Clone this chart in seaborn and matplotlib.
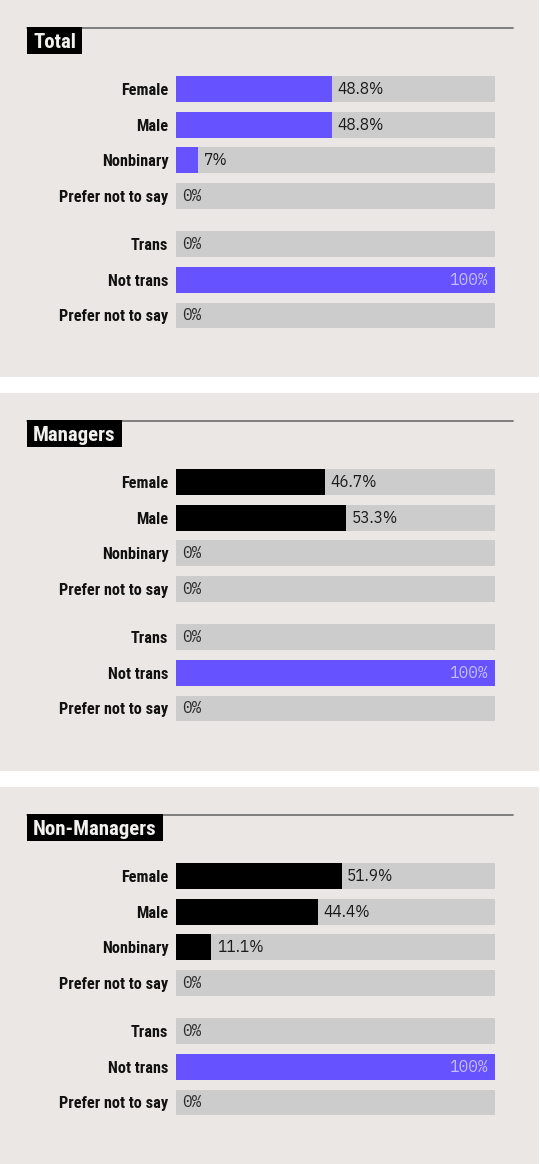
# Gender / trans breakdown, three stacked panels (Total, Managers, Non-Managers)
import matplotlib
matplotlib.use("Agg")
import matplotlib.pyplot as plt
from matplotlib.patches import Rectangle
from matplotlib.lines import Line2D
import seaborn as sns

# data
panel_titles = ["Total", "Managers", "Non-Managers"]
gender_cats = ["Female", "Male", "Nonbinary", "Prefer not to say"]
trans_cats = ["Trans", "Not trans", "Prefer not to say"]
gender_values = [
    [48.8, 48.8, 7, 0],
    [46.7, 53.3, 0, 0],
    [51.9, 44.4, 11.1, 0],
]
trans_values = [
    [0, 100, 0],
    [0, 100, 0],
    [0, 100, 0],
]
gender_colors = ["#6652ff", "#000000", "#000000"]
trans_color = "#6652ff"

# styling
sns.set_style("white")
plt.rcParams["font.family"] = ["Roboto Condensed", "DejaVu Sans"]
BG = "#ebe7e4"
TRACK = "#cccccc"
W, H = 540, 1164
panel_tops = [0, 393, 787]
panel_h = [377, 378, 377]
MONO = ["IBM Plex Mono", "DejaVu Sans Mono"]
SANS = ["IBM Plex Sans", "Roboto", "DejaVu Sans"]


def fig_box(x0, y0, x1, y1):
    # pixel box (top-left origin) -> figure coords [left, bottom, width, height]
    return [x0 / W, 1 - y1 / H, (x1 - x0) / W, (y1 - y0) / H]


def fmt(v):
    return f"{v:g}%"


def draw_bars(ax, cats, vals, color):
    sns.barplot(x=[100] * len(cats), y=cats, color=TRACK, width=0.72,
                orient="h", ax=ax, saturation=1, linewidth=0)
    sns.barplot(x=vals, y=cats, color=color, width=0.72,
                orient="h", ax=ax, saturation=1, linewidth=0)
    ax.set_xlim(0, 100)
    ax.set_xlabel("")
    ax.set_ylabel("")
    ax.set_xticks([])
    ax.set_facecolor("none")
    for s in ax.spines.values():
        s.set_visible(False)
    ax.tick_params(axis="y", length=0, pad=5.5)
    for lab in ax.get_yticklabels():
        lab.set_fontweight("bold")
        lab.set_fontsize(11.7)
        lab.set_color("#111111")
    for i, v in enumerate(vals):
        if v >= 100:
            ax.annotate(fmt(v), (100, i), xytext=(-5.5, 0), textcoords="offset points",
                        ha="right", va="center", fontsize=11.6,
                        family=MONO, color="#c3bcff")
        elif v == 0:
            ax.annotate(fmt(v), (0, i), xytext=(4.5, 0), textcoords="offset points",
                        ha="left", va="center", fontsize=11.6,
                        family=MONO, color="#2a2a2a")
        else:
            ax.annotate(fmt(v), (v, i), xytext=(4, 0), textcoords="offset points",
                        ha="left", va="center", fontsize=11.2,
                        family=SANS, color="#1a1a1a")


fig = plt.figure(figsize=(W / 100, H / 100), dpi=100)
fig.patch.set_facecolor("white")

title_texts = []
for p, title in enumerate(panel_titles):
    top = panel_tops[p]
    # panel background
    x, y, w, h = fig_box(0, top, 539, top + panel_h[p])
    fig.patches.append(Rectangle((x, y), w, h, transform=fig.transFigure,
                                 facecolor=BG, edgecolor="none", zorder=-2))
    # rule across the top
    fig.add_artist(Line2D([27 / W, 513 / W], [1 - (top + 27.5) / H] * 2,
                          transform=fig.transFigure, color="#777777", lw=1.3))
    t = fig.text(33 / W, 1 - (top + 48.3) / H, title, ha="left", va="baseline",
                 fontsize=15, fontweight="bold", color="#f2f0ee", zorder=5)
    title_texts.append((t, top))

    ax_g = fig.add_axes(fig_box(176, top + 71.2, 495, top + 213.8))
    draw_bars(ax_g, gender_cats, gender_values[p], gender_colors[p])
    ax_t = fig.add_axes(fig_box(176, top + 226.2, 495, top + 333.3))
    draw_bars(ax_t, trans_cats, trans_values[p], trans_color)

# black boxes behind the titles, sized to the text
fig.canvas.draw()
renderer = fig.canvas.get_renderer()
for t, top in title_texts:
    bb = t.get_window_extent(renderer)
    x1 = bb.x1 / W + 6 / W
    x, y, w, h = fig_box(27, top + 27, 0, top + 54.3)
    fig.patches.append(Rectangle((27 / W, y), x1 - 27 / W, h, transform=fig.transFigure,
                                 facecolor="black", edgecolor="none", zorder=4))

fig.savefig("out.png", dpi=100, facecolor="white")
